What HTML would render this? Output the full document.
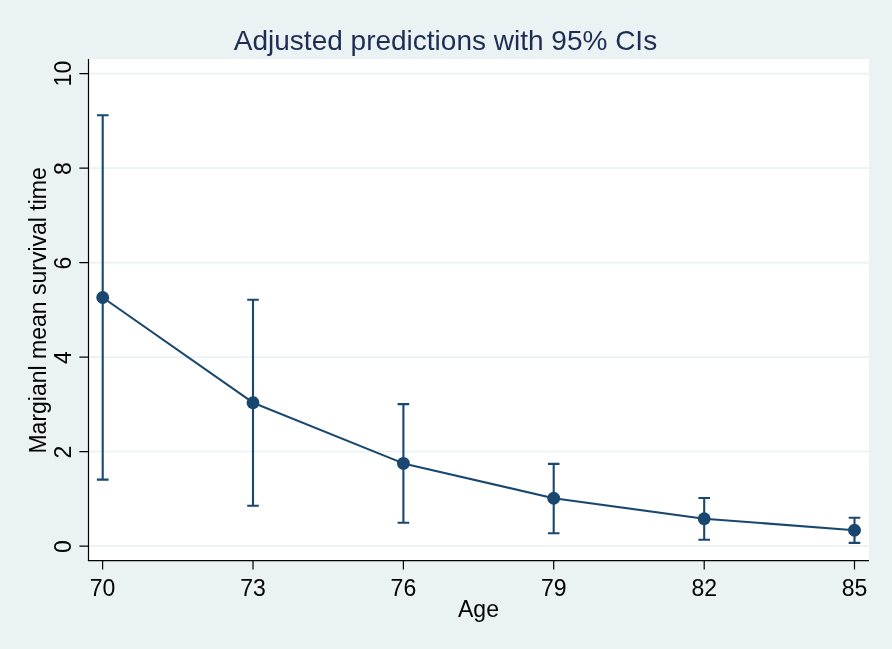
<!DOCTYPE html>
<html>
<head>
<meta charset="utf-8">
<title>Adjusted predictions with 95% CIs</title>
<style>
  html, body { margin: 0; padding: 0; background: #eaf2f3; }
  body { width: 892px; height: 649px; overflow: hidden; }
  svg { display: block; }
  text { font-family: "Liberation Sans", Arial, sans-serif; }
</style>
</head>
<body>
<svg width="892" height="649" viewBox="0 0 892 649">
  <rect x="0" y="0" width="892" height="649" fill="#eaf2f3"/>
  <!-- plot region -->
  <rect x="88.5" y="59" width="780.5" height="501" fill="#ffffff"/>
  <!-- gridlines -->
  <g stroke="#eaf2f3" stroke-width="1.6">
    <line x1="89" x2="869" y1="73.6" y2="73.6"/>
    <line x1="89" x2="869" y1="168.1" y2="168.1"/>
    <line x1="89" x2="869" y1="262.6" y2="262.6"/>
    <line x1="89" x2="869" y1="357.1" y2="357.1"/>
    <line x1="89" x2="869" y1="451.6" y2="451.6"/>
    <line x1="89" x2="869" y1="546.1" y2="546.1"/>
  </g>
  <!-- CI bars -->
  <g stroke="#1a476f" stroke-width="2.1" fill="none">
    <path d="M102.7 115.2V479.6M96.9 115.2H108.6M96.9 479.6H108.6"/>
    <path d="M253.0 299.8V505.8M247.2 299.8H258.8M247.2 505.8H258.8"/>
    <path d="M403.4 404.1V522.8M397.6 404.1H409.2M397.6 522.8H409.2"/>
    <path d="M553.7 463.9V533.3M547.9 463.9H559.5M547.9 533.3H559.5"/>
    <path d="M704.2 498.0V539.7M698.4 498.0H710.0M698.4 539.7H710.0"/>
    <path d="M854.5 517.7V542.9M848.7 517.7H860.3M848.7 542.9H860.3"/>
  </g>
  <!-- connecting line -->
  <polyline fill="none" stroke="#1a476f" stroke-width="2.1" stroke-linejoin="round"
    points="102.7,297.5 253.0,402.7 403.4,463.4 553.7,498.3 704.2,518.7 854.5,530.3"/>
  <!-- markers -->
  <g fill="#1a476f">
    <circle cx="102.7" cy="297.5" r="6.45"/>
    <circle cx="253.0" cy="402.7" r="6.45"/>
    <circle cx="403.4" cy="463.4" r="6.45"/>
    <circle cx="553.7" cy="498.3" r="6.45"/>
    <circle cx="704.2" cy="518.7" r="6.45"/>
    <circle cx="854.5" cy="530.3" r="6.45"/>
  </g>
  <!-- axes -->
  <g stroke="#000000" stroke-width="1.2" fill="none">
    <line x1="88.5" x2="88.5" y1="59" y2="560.6"/>
    <line x1="87.9" x2="869" y1="560.6" y2="560.6"/>
    <!-- y ticks -->
    <path d="M79.4 73.6H88.5M79.4 168.1H88.5M79.4 262.6H88.5M79.4 357.1H88.5M79.4 451.6H88.5M79.4 546.1H88.5"/>
    <!-- x ticks -->
    <path d="M102.6 560V569.4M253.0 560V569.4M403.4 560V569.4M553.7 560V569.4M704.2 560V569.4M854.5 560V569.4"/>
  </g>
  <!-- x tick labels -->
  <g font-size="23" fill="#000000" text-anchor="middle">
    <text x="102.6" y="596.2">70</text>
    <text x="253.0" y="596.2">73</text>
    <text x="403.4" y="596.2">76</text>
    <text x="553.7" y="596.2">79</text>
    <text x="704.2" y="596.2">82</text>
    <text x="854.5" y="596.2">85</text>
  </g>
  <!-- y tick labels (rotated) -->
  <g font-size="23" fill="#000000" text-anchor="middle">
    <text transform="translate(70.6,73.6) rotate(-90)">10</text>
    <text transform="translate(70.6,168.7) rotate(-90)">8</text>
    <text transform="translate(70.6,263.2) rotate(-90)">6</text>
    <text transform="translate(70.6,357.7) rotate(-90)">4</text>
    <text transform="translate(70.6,452.2) rotate(-90)">2</text>
    <text transform="translate(70.6,546.7) rotate(-90)">0</text>
  </g>
  <!-- axis titles -->
  <text x="478.5" y="616.8" font-size="23" fill="#000000" text-anchor="middle">Age</text>
  <text transform="translate(46,310.4) rotate(-90)" font-size="23" fill="#000000" text-anchor="middle">Margianl mean survival time</text>
  <!-- title -->
  <text x="445.5" y="50.1" font-size="28" fill="#1e2d53" text-anchor="middle">Adjusted predictions with 95% CIs</text>
</svg>
</body>
</html>
